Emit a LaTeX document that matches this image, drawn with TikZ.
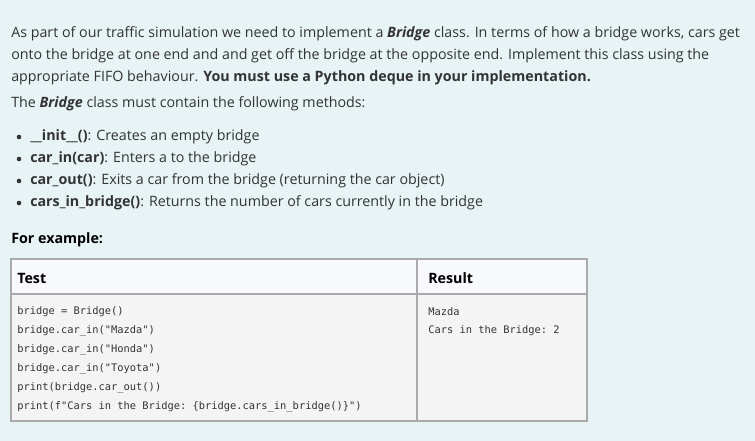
\documentclass[tikz,border=0pt]{standalone}
\usepackage{fontspec}
\setmainfont{Open Sans}
\setmonofont{DejaVu Sans Mono}
\begin{document}
\begin{tikzpicture}[x=0.75pt,y=-0.75pt,
  txt/.style={anchor=west,inner sep=0pt,text=black!80,font=\fontsize{10.7pt}{12pt}\selectfont},
  cd/.style={anchor=west,inner sep=0pt,text=black!80,font=\ttfamily\fontsize{7.8pt}{9pt}\selectfont},
  hd/.style={anchor=west,inner sep=0pt,text=black,font=\bfseries\fontsize{10.7pt}{12pt}\selectfont}]
\definecolor{bg}{HTML}{E7F3F5}
\definecolor{hbg}{HTML}{F8F9FC}
\definecolor{bbg}{HTML}{F4F4F4}
\definecolor{bd}{HTML}{AAAAAA}
\fill[bg] (0,0) rectangle (755,441);
\useasboundingbox (0,0) rectangle (755,441);
\node[txt] (l1) at (11,34) {As part of our traffic simulation we need to implement a \textbf{\textit{Bridge}} class. In terms of how a bridge works, cars get};
\node[txt] (l2) at (11,56) {onto the bridge at one end and and get off the bridge at the opposite end. Implement this class using the};
\node[txt] (l3) at (11,78) {appropriate FIFO behaviour. \textbf{You must use a Python deque in your implementation.}};
\node[txt] (l4) at (11,104) {The \textbf{\textit{Bridge}} class must contain the following methods:};
\foreach \y/\t [count=\i] in {137/{\textbf{\_\_init\_\_()}: Creates an empty bridge},
  159/{\textbf{car\_in(car)}: Enters a to the bridge},
  181/{\textbf{car\_out()}: Exits a car from the bridge (returning the car object)},
  203/{\textbf{cars\_in\_bridge()}: Returns the number of cars currently in the bridge}}{
  \fill[black!80] (19,\y) circle (2.3);
  \node[txt] (b\i) at (30,\y) {\t};
}
\node[hd] (ex) at (11,240) {For example:};
\fill[hbg] (11,259) rectangle (587,294);
\fill[bbg] (11,294) rectangle (587,421);
\draw[bd,line width=0.9pt] (11,259) rectangle (587,421) (11,294) -- (587,294) (417,259) -- (417,421);
\node[hd] (th) at (17,278) {Test};
\node[hd] (rh) at (428,278) {Result};
\foreach \y/\t [count=\i] in {312/{bridge = Bridge()},331/{bridge.car\_in("Mazda")},350/{bridge.car\_in("Honda")},369/{bridge.car\_in("Toyota")},388/{print(bridge.car\_out())},407/{print(f"Cars in the Bridge: \{bridge.cars\_in\_bridge()\}")}}{
  \node[cd] (c\i) at (17,\y) {\t};
}
\node[cd] (r1) at (428,312) {Mazda};
\node[cd] (r2) at (428,331) {Cars in the Bridge: 2};
\end{tikzpicture}
\end{document}
